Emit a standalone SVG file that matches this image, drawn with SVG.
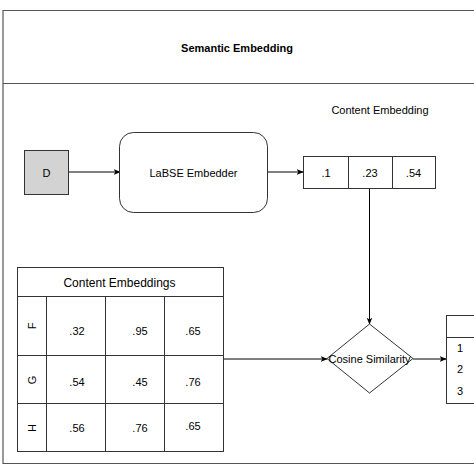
<svg xmlns="http://www.w3.org/2000/svg" width="474" height="474" viewBox="0 0 474 474">
<defs>
<marker id="arr" viewBox="0 0 10 10" refX="9" refY="5" markerWidth="7" markerHeight="7" orient="auto" markerUnits="userSpaceOnUse">
<path d="M0,1 L10,5 L0,9 L2.5,5 Z" fill="#000"/>
</marker>
</defs>
<style>
text{font-family:"Liberation Sans",Arial,sans-serif;font-size:11px;fill:#000;text-anchor:middle;dominant-baseline:central}
.b{fill:#fff;stroke:#333;stroke-width:1}
.ln{fill:none;stroke:#333;stroke-width:1}
.fr{fill:none;stroke:#555;stroke-width:1.2}
.e{stroke:#000;stroke-width:1;fill:none}
</style>
<rect width="474" height="474" fill="#fff"/>
<g id="frame">
<line class="fr" x1="3" y1="10.5" x2="474" y2="10.5"/>
<line class="fr" x1="3" y1="83.5" x2="474" y2="83.5"/>
<line class="fr" x1="3" y1="463.5" x2="474" y2="463.5"/>
<line class="fr" x1="3" y1="10" x2="3" y2="464"/>
<text x="237" y="48" style="font-weight:bold">Semantic Embedding</text>
</g>
<g id="content-embedding-label"><text x="380" y="110">Content Embedding</text></g>
<g id="connectors">
<line class="e" x1="69" y1="172" x2="120" y2="172" marker-end="url(#arr)"/>
<line class="e" x1="267" y1="172" x2="303" y2="172" marker-end="url(#arr)"/>
<line class="e" x1="369.5" y1="188" x2="369.5" y2="324" marker-end="url(#arr)"/>
<line class="e" x1="223" y1="359" x2="327" y2="359" marker-end="url(#arr)"/>
<line class="e" x1="413" y1="359" x2="446" y2="359" marker-end="url(#arr)"/>
</g>
<g id="D">
<rect x="24.5" y="150.5" width="44" height="44" fill="#d3d3d3" stroke="#333"/>
<text x="46.5" y="172.5">D</text>
</g>
<g id="labse">
<rect class="b" x="119.5" y="132.5" width="148" height="80" rx="14" ry="14"/>
<text x="193.5" y="172.5">LaBSE Embedder</text>
</g>
<g id="vector">
<rect class="b" x="303.5" y="156.5" width="132" height="32"/>
<line class="ln" x1="348.5" y1="156.5" x2="348.5" y2="188.5"/>
<line class="ln" x1="392.5" y1="156.5" x2="392.5" y2="188.5"/>
<text x="326" y="172.5">.1</text>
<text x="370" y="172.5">.23</text>
<text x="413.5" y="172.5">.54</text>
</g>
<g id="cosine">
<polygon class="b" points="369.5,324 413,358.5 369.5,393 327,358.5"/>
<text x="369.5" y="359">Cosine Similarity</text>
</g>
<g id="content-embeddings">
<rect class="b" x="17.5" y="267.5" width="206" height="184"/>
<line class="ln" x1="17.5" y1="296.5" x2="223.5" y2="296.5"/>
<line class="ln" x1="46.5" y1="296.5" x2="46.5" y2="451.5"/>
<line class="ln" x1="105.5" y1="296.5" x2="105.5" y2="451.5"/>
<line class="ln" x1="164.5" y1="296.5" x2="164.5" y2="451.5"/>
<line class="ln" x1="17.5" y1="355.5" x2="223.5" y2="355.5"/>
<line class="ln" x1="17.5" y1="403.5" x2="223.5" y2="403.5"/>
<text x="119.5" y="283" style="font-size:12px">Content Embeddings</text>
<text transform="translate(32,326) rotate(-90)">F</text>
<text transform="translate(32,380) rotate(-90)">G</text>
<text transform="translate(32,428) rotate(-90)">H</text>
<text x="77" y="331">.32</text>
<text x="140" y="331">.95</text>
<text x="193" y="331">.65</text>
<text x="77" y="382">.54</text>
<text x="140" y="382">.45</text>
<text x="193" y="382">.76</text>
<text x="77" y="428">.56</text>
<text x="140" y="428">.76</text>
<text x="193" y="426">.65</text>
</g>
<g id="result">
<rect class="b" x="446.5" y="315.5" width="40" height="88"/>
<line class="ln" x1="446.5" y1="337.5" x2="474" y2="337.5"/>
<text x="460" y="347.5">1</text>
<text x="460" y="369">2</text>
<text x="460" y="391">3</text>
</g>
</svg>
